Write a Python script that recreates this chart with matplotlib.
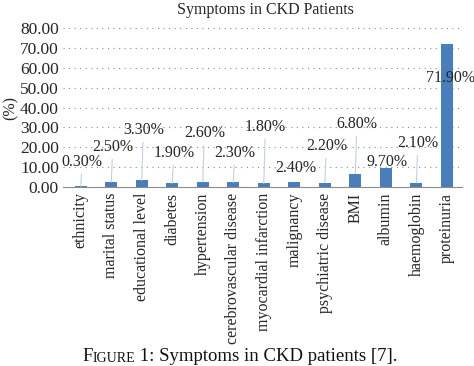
import matplotlib
matplotlib.use('Agg')
import matplotlib.pyplot as plt
from matplotlib.text import Annotation

# Datos del grafico
categorias = ['ethnicity', 'marital status', 'educational level', 'diabetes',
              'hypertension', 'cerebrovascular disease', 'myocardial infarction',
              'malignancy', 'psychiatric disease', 'BMI', 'albumin',
              'haemoglobin', 'proteinuria']
porcentajes = [0.3, 2.5, 3.3, 1.9, 2.6, 2.3, 1.8, 2.4, 2.2, 6.8, 9.7, 2.1, 71.9]
etiquetas = ['0.30%', '2.50%', '3.30%', '1.90%', '2.60%', '2.30%', '1.80%',
             '2.40%', '2.20%', '6.80%', '9.70%', '2.10%', '71.90%']
# altura (en unidades del eje) donde se colocan las etiquetas
altura_etiqueta = [12.6, 20.1, 28.6, 17.1, 27.1, 17.1, 30.2, 9.5, 20.6, 31.7, 12.6, 22.1, 54.8]
marcas_y = [0, 10, 20, 30, 40, 50, 60, 70, 80]

plt.rcParams['font.family'] = ['Liberation Serif', 'DejaVu Serif']
gris = '#262626'

fig = plt.figure(figsize=(4.74, 3.66), dpi=100)
ax = fig.add_axes([0.133, 0.489, 0.842, 0.434])

x = list(range(len(categorias)))
ax.bar(x, porcentajes, width=0.4, color='#4a7ebb', zorder=3)

sin_linea = [7, 10, 12]
for i, (v, txt, h) in enumerate(zip(porcentajes, etiquetas, altura_etiqueta)):
    dx = 0.12 if i == len(categorias) - 1 else 0.05
    props = None
    if i not in sin_linea:
        props = dict(arrowstyle='-', color='#c3cfdf', lw=0.8, shrinkA=1, shrinkB=0)
    ax.annotate(txt, xy=(i, v), xytext=(i + dx, h), ha='center', va='center',
                fontsize=11.5, color=gris, arrowprops=props)

ax.set_ylim(0, 80)
ax.set_xlim(-0.58, 12.5)
ax.set_yticks(marcas_y)
ax.set_yticklabels([f'{m:.2f}' for m in marcas_y], fontsize=12.5, color=gris)
ax.set_xticks(x)
ax.set_xticklabels(categorias, rotation=90, fontsize=11.5, color=gris)
ax.tick_params(length=0, pad=4)
ax.tick_params(axis='y', pad=3)
ax.yaxis.grid(True, linestyle=(0, (1, 4)), color='#8c8c8c', lw=0.8, zorder=0)
for s in ['top', 'right', 'left']:
    ax.spines[s].set_visible(False)
ax.spines['bottom'].set_color('#8c8c8c')
ax.spines['bottom'].set_zorder(4)

ax.set_ylabel('(%)', fontsize=11.5, color=gris)
ax.yaxis.set_label_coords(-0.112, 0.5)

fig.text(0.56, 0.972, 'Symptoms in CKD Patients', ha='center', va='center',
         fontsize=11.5, color=gris)

# Pie de figura en versalitas (cada trozo se encadena al anterior)
partes = [('F', 13.5), ('IGURE', 10), (' 1: Symptoms in CKD patients [7].', 13.5)]
ref = fig.text(0.173, 0.002, partes[0][0], ha='left', va='bottom',
               fontsize=partes[0][1], color='#111111')
for s, fs in partes[1:]:
    ref = fig.add_artist(Annotation(s, xy=(1, 0), xycoords=ref, va='bottom',
                                    ha='left', fontsize=fs, color='#111111',
                                    annotation_clip=False))

fig.savefig('out.png', dpi=100)
